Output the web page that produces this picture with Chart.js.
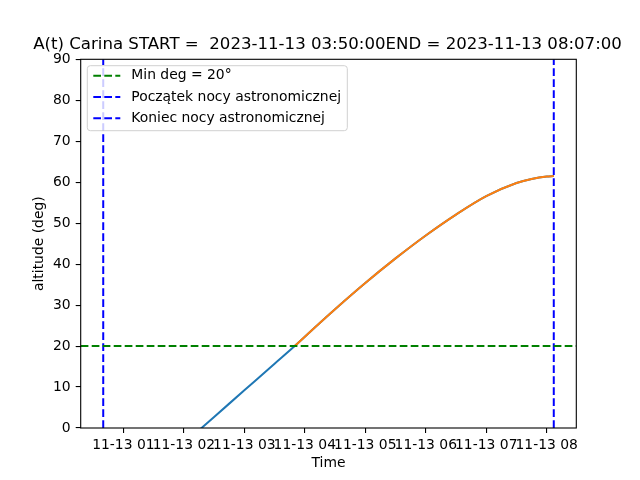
<!DOCTYPE html>
<html>
<head>
<meta charset="utf-8">
<script src="https://cdn.jsdelivr.net/npm/chart.js"></script>
<style>
  body { margin: 0; background: #fff; }
</style>
</head>
<body>
<canvas id="myChart" width="640" height="480"></canvas>
<script>
// dane
const blueTimes = ['00:40', '01:00', '01:30', '02:00', '02:30', '03:00', '03:30', '03:50',
  '04:00', '04:30', '05:00', '05:30', '06:00', '06:30', '07:00', '07:30', '07:45', '08:00', '08:07'];
const blueAlt = [-21.2, -16.8, -10.3, -3.8, 2.7, 9.2, 15.7, 20.0,
  22.3, 29.0, 35.4, 41.4, 47.0, 52.1, 56.6, 59.8, 60.8, 61.4, 61.5];
const orangeTimes = ['03:50', '04:00', '04:30', '05:00', '05:30', '06:00', '06:30', '07:00', '07:30', '07:45', '08:00', '08:07'];
const orangeAlt = [20.0, 22.3, 29.0, 35.4, 41.4, 47.0, 52.1, 56.6, 59.8, 60.8, 61.4, 61.5];
const minDeg = 20;
const nightStart = '00:40';
const nightEnd = '08:07';
const xTicks = [1, 2, 3, 4, 5, 6, 7, 8];
const yTicks = [0, 10, 20, 30, 40, 50, 60, 70, 80, 90];
const legendLabels = ['Min deg = 20°', 'Początek nocy astronomicznej', 'Koniec nocy astronomicznej'];
const titleText = 'A(t) Carina START =  2023-11-13 03:50:00END = 2023-11-13 08:07:00';

const toHours = (s) => {
  const [h, m] = s.split(':').map(Number);
  return h + m / 60;
};

const xStart = toHours(nightStart);
const xEnd = toHours(nightEnd);
const margin = (xEnd - xStart) * 0.05;
const xMin = xStart - margin;
const xMax = xEnd + margin;

const pts = (times, vals) => times.map((t, i) => ({ x: toHours(t), y: vals[i] }));

const FONT = 'DejaVu Sans';
const dash = [7.7, 3.3];

// tytul, ramka i legenda jak w matplotlib
const extras = {
  id: 'extras',
  afterDatasetsDraw(chart) {
    const { ctx, chartArea: a } = chart;
    ctx.save();
    ctx.strokeStyle = '#000';
    ctx.lineWidth = 1.1;
    ctx.strokeRect(a.left, a.top, a.right - a.left, a.bottom - a.top);

    // legenda
    const bx = a.left + 6.6, by = a.top + 6.4, bw = 260, bh = 65;
    ctx.beginPath();
    ctx.roundRect(bx, by, bw, bh, 3);
    ctx.fillStyle = 'rgba(255,255,255,0.8)';
    ctx.fill();
    ctx.strokeStyle = '#d0d0d0';
    ctx.lineWidth = 1;
    ctx.stroke();
    ctx.font = '13.9px ' + FONT;
    ctx.textBaseline = 'middle';
    ctx.textAlign = 'left';
    const legendSets = chart.data.datasets.filter(d => d.inLegend);
    legendSets.forEach((d, i) => {
      const y = by + 10 + i * 21.3;
      ctx.strokeStyle = d.borderColor;
      ctx.lineWidth = 2;
      ctx.setLineDash(dash);
      ctx.beginPath();
      ctx.moveTo(bx + 6, y);
      ctx.lineTo(bx + 33, y);
      ctx.stroke();
      ctx.setLineDash([]);
      ctx.fillStyle = '#000';
      ctx.fillText(d.label, bx + 44, y);
    });

    // tytul
    ctx.font = '16.6px ' + FONT;
    ctx.textAlign = 'center';
    ctx.textBaseline = 'alphabetic';
    ctx.fillStyle = '#000';
    ctx.fillText(titleText, (a.left + a.right) / 2 - 1, a.top - 10.5);
    ctx.restore();
  }
};

const ctx = document.getElementById('myChart').getContext('2d');

const myChart = new Chart(ctx, {
  type: 'line',
  data: {
    datasets: [
      {
        label: legendLabels[0],
        inLegend: true,
        data: [{ x: xMin, y: minDeg }, { x: xMax, y: minDeg }],
        borderColor: '#008000',
        borderWidth: 2,
        borderDash: dash,
        pointRadius: 0
      },
      {
        label: legendLabels[1],
        inLegend: true,
        data: [{ x: xStart, y: yTicks[0] }, { x: xStart, y: yTicks[yTicks.length - 1] }],
        borderColor: '#0000ff',
        borderWidth: 2,
        borderDash: dash,
        pointRadius: 0
      },
      {
        label: legendLabels[2],
        inLegend: true,
        data: [{ x: xEnd, y: yTicks[0] }, { x: xEnd, y: yTicks[yTicks.length - 1] }],
        borderColor: '#0000ff',
        borderWidth: 2,
        borderDash: dash,
        pointRadius: 0
      },
      {
        label: 'A(t) noc',
        data: pts(orangeTimes, orangeAlt),
        borderColor: '#ff7f0e',
        borderWidth: 2,
        pointRadius: 0,
        cubicInterpolationMode: 'monotone'
      },
      {
        label: 'A(t)',
        data: pts(blueTimes, blueAlt),
        borderColor: '#1f77b4',
        borderWidth: 2,
        pointRadius: 0,
        cubicInterpolationMode: 'monotone'
      }
    ]
  },
  options: {
    responsive: false,
    animation: false,
    devicePixelRatio: 1,
    layout: { padding: { top: 59.3, right: 63.7, left: 0, bottom: 0 } },
    plugins: {
      legend: { display: false },
      tooltip: { enabled: false },
      title: { display: false }
    },
    scales: {
      x: {
        type: 'linear',
        min: xMin,
        max: xMax,
        afterFit: (s) => { s.height = 52; },
        afterBuildTicks: (s) => { s.ticks = xTicks.map(v => ({ value: v })); },
        grid: { drawOnChartArea: false, drawTicks: true, tickLength: 5, color: '#000', lineWidth: 1.1 },
        border: { display: false },
        ticks: {
          padding: 4,
          color: '#000',
          maxRotation: 0,
          autoSkip: false,
          font: { family: FONT, size: 13.9 },
          callback: (v) => '11-13 ' + String(v).padStart(2, '0')
        },
        title: {
          display: true,
          text: 'Time',
          color: '#000',
          font: { family: FONT, size: 13.9 },
          padding: { bottom: 8 }
        }
      },
      y: {
        type: 'linear',
        min: yTicks[0],
        max: yTicks[yTicks.length - 1],
        afterFit: (s) => { s.width = 80.7; },
        afterBuildTicks: (s) => { s.ticks = yTicks.map(v => ({ value: v })); },
        grid: { drawOnChartArea: false, drawTicks: true, tickLength: 5, color: '#000', lineWidth: 1.1 },
        border: { display: false },
        ticks: {
          padding: 5,
          color: '#000',
          font: { family: FONT, size: 13.9 }
        },
        title: {
          display: true,
          text: 'altitude (deg)',
          color: '#000',
          font: { family: FONT, size: 13.9 },
          padding: { top: 30.7 }
        }
      }
    }
  },
  plugins: [extras]
});
</script>
</body>
</html>
